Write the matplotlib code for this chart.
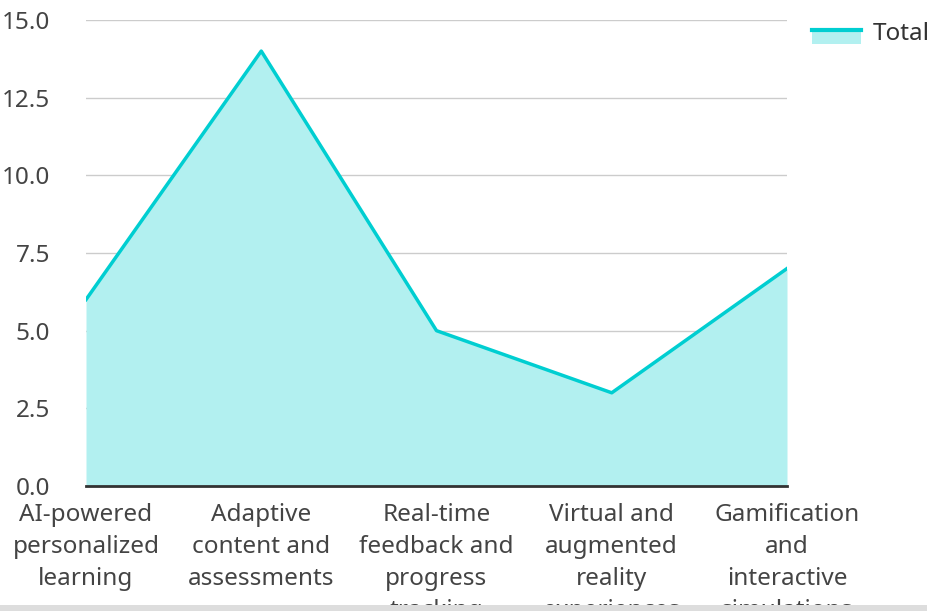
import matplotlib.pyplot as plt
from matplotlib.legend_handler import HandlerBase
from matplotlib.patches import Rectangle
from matplotlib.lines import Line2D

plt.rcParams['font.family'] = ['Noto Sans', 'DejaVu Sans']

categories = [
    "AI-powered\npersonalized\nlearning",
    "Adaptive\ncontent and\nassessments",
    "Real-time\nfeedback and\nprogress\ntracking",
    "Virtual and\naugmented\nreality\nexperiences",
    "Gamification\nand\ninteractive\nsimulations",
]
totals = [6, 14, 5, 3, 7]
y_ticks = [0.0, 2.5, 5.0, 7.5, 10.0, 12.5, 15.0]

line_color = '#00CED1'
fill_color = '#B2F0F0'
font_size = 17.5


class AreaHandler(HandlerBase):
    def create_artists(self, legend, orig_handle, xdescent, ydescent,
                       width, height, fontsize, trans):
        mid = height * 0.6
        rect = Rectangle((-xdescent, -ydescent - 3), width, mid + 3,
                         facecolor=fill_color, edgecolor='none', transform=trans)
        line = Line2D([-xdescent, width - xdescent], [mid, mid],
                      color=line_color, lw=3, transform=trans)
        return [rect, line]


fig = plt.figure(figsize=(9.28, 6.11), dpi=100)
ax = fig.add_axes([86 / 928, 1 - 486 / 611, (787 - 86) / 928, (486 - 20) / 611])

x = list(range(len(categories)))
ax.fill_between(x, totals, 0, color=fill_color, lw=0, zorder=2)
ax.plot(x, totals, color=line_color, lw=2.5, zorder=3, label='Total')

ax.set_xlim(0, len(categories) - 1)
ax.set_ylim(0, 15)
ax.set_yticks(y_ticks)
ax.set_yticklabels([f'{v:.1f}' for v in y_ticks])
ax.set_xticks(x)
ax.set_xticklabels(categories, linespacing=1.45)

ax.grid(axis='y', color='#CCCCCC', lw=1, zorder=1)
for s in ['top', 'right', 'left']:
    ax.spines[s].set_visible(False)
ax.spines['bottom'].set_color('#333333')
ax.spines['bottom'].set_linewidth(2)
ax.spines['bottom'].set_zorder(4)
ax.tick_params(axis='both', length=0, labelsize=font_size, colors='#444444')
ax.tick_params(axis='y', pad=26)
ax.tick_params(axis='x', pad=12)

handle = Rectangle((0, 0), 1, 1)
fig.legend([handle], ['Total'], handler_map={Rectangle: AreaHandler()},
           loc='upper left', bbox_to_anchor=(812 / 928, 1 - 22 / 611),
           frameon=False, fontsize=font_size, handlelength=2.0,
           handletextpad=0.5, borderpad=0, borderaxespad=0,
           labelcolor='#333333')

fig.add_artist(Rectangle((0, 0), 1, 6 / 611, transform=fig.transFigure,
                         facecolor='#DDDDDD', edgecolor='none', zorder=10))

fig.savefig('out.png', dpi=100)
